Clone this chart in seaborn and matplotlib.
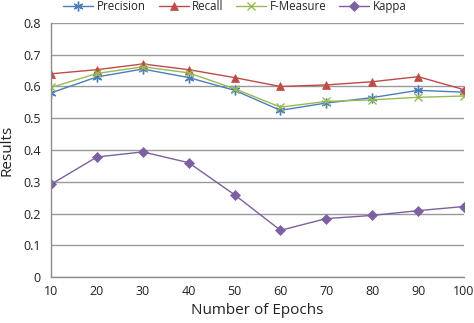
import matplotlib
matplotlib.use("Agg")
import matplotlib.pyplot as plt
import seaborn as sns
import pandas as pd
from matplotlib.ticker import FuncFormatter

epochs = [10, 20, 30, 40, 50, 60, 70, 80, 90, 100]
precision = [0.580, 0.630, 0.655, 0.628, 0.588, 0.525, 0.548, 0.565, 0.588, 0.582]
recall = [0.640, 0.653, 0.671, 0.653, 0.628, 0.600, 0.605, 0.615, 0.631, 0.590]
f_measure = [0.597, 0.641, 0.662, 0.643, 0.593, 0.535, 0.553, 0.558, 0.566, 0.570]
kappa = [0.292, 0.378, 0.394, 0.360, 0.259, 0.147, 0.184, 0.194, 0.209, 0.222]

series = {"Precision": precision, "Recall": recall, "F-Measure": f_measure, "Kappa": kappa}
colors = {"Precision": "#4a7ebb", "Recall": "#be4b48", "F-Measure": "#98b954", "Kappa": "#7d60a0"}
markers = {"Precision": (6, 2, 0), "Recall": "^", "F-Measure": "x", "Kappa": "D"}
msizes = {"Precision": 7, "Recall": 6, "F-Measure": 6, "Kappa": 4.8}

df = pd.DataFrame([(name, e, v) for name, vals in series.items() for e, v in zip(epochs, vals)],
                  columns=["Metric", "Epochs", "Value"])

sns.set_style("white")
plt.rcParams["font.family"] = ["Open Sans", "DejaVu Sans"]

fig = plt.figure(figsize=(4.74, 3.23), dpi=100)
ax = fig.add_axes([0.1076, 0.1424, 0.8714, 0.7864])

for name in series:
    sub = df[df["Metric"] == name]
    sns.lineplot(data=sub, x="Epochs", y="Value", ax=ax, color=colors[name],
                 marker=markers[name], markersize=msizes[name], linewidth=1.0,
                 markeredgecolor=colors[name],
                 markeredgewidth=1.0 if name in ("Precision", "F-Measure") else 0.5,
                 label=name)

ax.set_xlim(10, 100)
ax.set_ylim(0, 0.8)
ax.set_xticks(epochs)
ax.set_yticks([0, 0.1, 0.2, 0.3, 0.4, 0.5, 0.6, 0.7, 0.8])
ax.yaxis.set_major_formatter(FuncFormatter(lambda v, p: "0" if v == 0 else f"{v:.1f}"))
ax.grid(axis="y", color="#9a9a9a", linewidth=1.0)
ax.grid(axis="x", visible=False)
ax.set_axisbelow(True)
for s in ("top", "right"):
    ax.spines[s].set_visible(False)
for s in ("left", "bottom"):
    ax.spines[s].set_color("#8c8c8c")
    ax.spines[s].set_linewidth(1.0)
ax.tick_params(axis="both", direction="out", length=4, width=1.0, color="#8c8c8c",
               labelsize=9, labelcolor="#222222")
ax.tick_params(axis="x", pad=2)
ax.set_xlabel("Number of Epochs", fontsize=11, color="#222222", labelpad=3)
ax.set_ylabel("Results", fontsize=11, color="#222222", labelpad=6)

ax.legend(loc="lower center", bbox_to_anchor=(0.445, 1.04), ncol=4, frameon=False,
          fontsize=8.3, handlelength=2.6, columnspacing=1.1, handletextpad=0.3,
          borderaxespad=0, borderpad=0)

fig.savefig("out.png", dpi=100)
